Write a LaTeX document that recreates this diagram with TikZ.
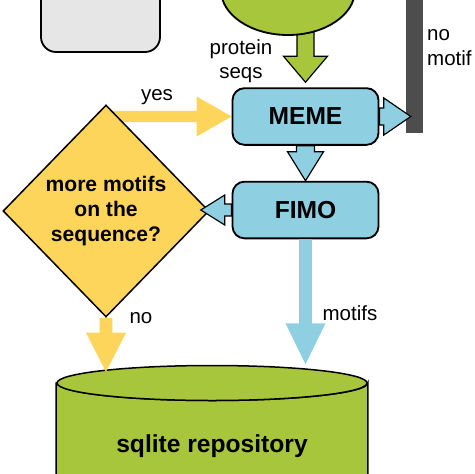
\documentclass[tikz,border=0pt]{standalone}
\usepackage{fontspec}
\setmainfont{Liberation Sans}
\usetikzlibrary{calc}
\usetikzlibrary{shapes.geometric}
\usetikzlibrary{backgrounds}
\definecolor{inputgray}{HTML}{E6E6E6}
\definecolor{seqgreen}{HTML}{A8C63B}
\definecolor{toolblue}{HTML}{8ECFE2}
\definecolor{askyellow}{HTML}{FDD55A}
\definecolor{bargray}{HTML}{4D4D4D}

\newcommand{\blockarrow}[6][]{%
	\coordinate (ba-head) at ($(#3)!#6!(#2)$);
	\path[#1]
		($(#2)!#4!90:(#3)$)
		-- ($(ba-head)!#4!-90:(#2)$)
		-- ($(ba-head)!#5!-90:(#2)$)
		-- (#3)
		-- ($(ba-head)!#5!90:(#2)$)
		-- ($(ba-head)!#4!90:(#2)$)
		-- ($(#2)!#4!-90:(#3)$)
		-- cycle;
}

\begin{document}
\begin{tikzpicture}[
	x=0.03cm,
	y=-0.03cm,
	toolbox/.style={
		draw,
		fill=toolblue,
		line width=0.55mm,
		rounded corners=0.36cm,
		minimum width=4.38cm,
		minimum height=1.7cm,
		font=\fontsize{21}{24}\selectfont\bfseries,
	},
	flowlabel/.style={
		inner sep=0pt,
		font=\fontsize{17.5}{21}\selectfont,
	},
	greenarrow/.style={
		draw,
		fill=seqgreen,
		line width=0.35mm,
	},
	bluearrow/.style={
		draw,
		fill=toolblue,
		line width=0.35mm,
	},
	blueflow/.style={
		fill=toolblue,
	},
	yellowflow/.style={
		fill=askyellow,
	}
]
\useasboundingbox (0,0) rectangle (474,474);
\clip (0,0) rectangle (474,474);

\node (input) [
	draw,
	fill=inputgray,
	line width=0.55mm,
	rounded corners=0.45cm,
	minimum width=3.57cm,
	minimum height=3.12cm,
] at (100.5,0) {};

\node (seqsrc) [
	ellipse,
	draw,
	fill=seqgreen,
	line width=0.55mm,
	minimum width=4.02cm,
	minimum height=2.7cm,
] at (288,-10) {};

\node (meme) [toolbox] at (305.5,116.5) {MEME};
\node (fimo) [toolbox] at (305.5,210) {FIMO};

\node (decision) [
	diamond,
	draw,
	fill=askyellow,
	line width=0.45mm,
	inner sep=0pt,
	minimum width=6.18cm,
	minimum height=6.36cm,
	align=center,
	font=\fontsize{18}{21.3}\selectfont\bfseries,
] at (106,211) {more motifs\\on the\\sequence?};

\node (bar) [
	fill=bargray,
	inner sep=0pt,
	minimum width=0.51cm,
	minimum height=4.4cm,
] at (414.5,60) {};

% repository
\node (db) [
	ellipse,
	draw,
	fill=seqgreen,
	line width=0.45mm,
	minimum width=9.3cm,
	minimum height=1.05cm,
] at (212,383) {};
\node (dblabel) [
	anchor=base,
	font=\fontsize{21}{24}\selectfont\bfseries,
] at (212,452) {sqlite repository};

% labels
\node (seqlabel) [flowlabel, align=center] at (241,61) {protein\\seqs};
\node (yeslabel) [flowlabel, anchor=base] at (157,100) {yes};
\node (nomotif) [flowlabel, align=left, anchor=base west] at (427,65) {no\\motif};
\node (nolabel) [flowlabel, anchor=base] at (141,323) {no};
\node (motiflabel) [flowlabel, anchor=base] at (350,320) {motifs};

\begin{scope}[on background layer]
	\coordinate (seqfoot) at (meme.north |- seqsrc.center);
	\coordinate (seqtip) at ($(meme.north)+(0,-5)$);
	\blockarrow[greenarrow]{seqfoot}{seqtip}{7.3pt}{18.8pt}{22.2pt}
	\coordinate (yesfoot) at (decision.north |- meme.west);
	\blockarrow[yellowflow]{yesfoot}{meme.west}{4.7pt}{17.1pt}{29.9pt}
	\path[draw, fill=seqgreen, line width=0.45mm]
		(db.west) -- ++(0,160) -| (db.east)
		arc[start angle=0, end angle=180, x radius=155, y radius=17.5]
		-- cycle;
\end{scope}

\blockarrow[bluearrow]{meme.south}{fimo.north}{7.7pt}{15.4pt}{24.8pt}
\coordinate (memetip) at ($(bar.west |- meme.east)+(5,0)$);
\blockarrow[bluearrow]{meme.east}{memetip}{7.3pt}{15.8pt}{23pt}
\coordinate (fimotip) at ($(decision.east |- fimo.west)+(-9,0)$);
\blockarrow[bluearrow]{fimo.west}{fimotip}{5.1pt}{12.8pt}{20.5pt}
\coordinate (notip) at ($(decision.south)+(0,54)$);
\blockarrow[yellowflow]{decision.south}{notip}{5.5pt}{17.1pt}{33.3pt}
\coordinate (motiftip) at ($(fimo.south)+(0,125)$);
\blockarrow[blueflow]{fimo.south}{motiftip}{5.5pt}{17.1pt}{35pt}
\end{tikzpicture}
\end{document}
